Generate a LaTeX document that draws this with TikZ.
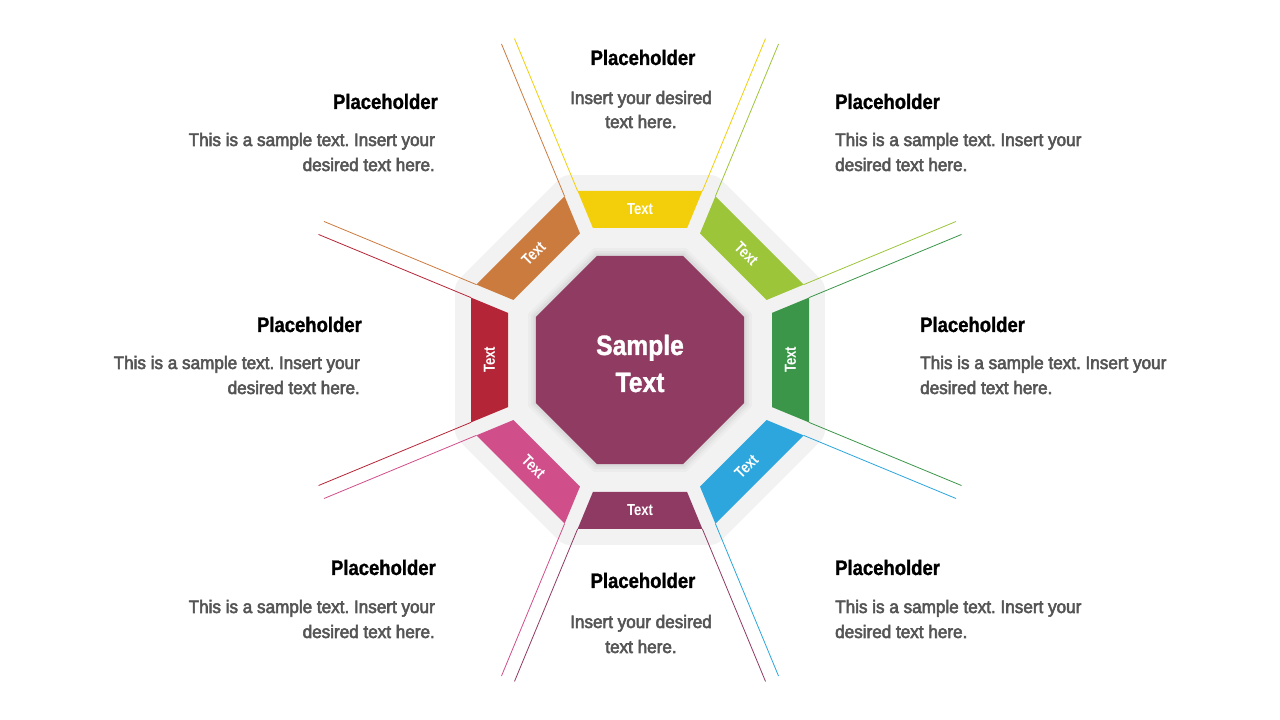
\documentclass[tikz,border=0pt]{standalone}
\usepackage{fontspec}
\setmainfont{Liberation Sans}
\newfontfamily\headfont[FakeStretch=0.88,FakeBold=1.2]{Liberation Sans}
\newfontfamily\bodyfont[FakeStretch=0.95,FakeBold=3]{Liberation Sans}
\newfontfamily\labfont[FakeStretch=0.82]{Liberation Sans}
\definecolor{ringgray}{HTML}{F2F2F2}
\definecolor{bodygray}{HTML}{555555}
\definecolor{centerc}{HTML}{903B62}
\definecolor{segyellow}{HTML}{F2CF0A}
\definecolor{seglime}{HTML}{9DC53A}
\definecolor{seggreen}{HTML}{3B9649}
\definecolor{segblue}{HTML}{2CA6DC}
\definecolor{segpurple}{HTML}{8E3A63}
\definecolor{segpink}{HTML}{D04E8A}
\definecolor{segred}{HTML}{B52538}
\definecolor{segorange}{HTML}{CC7B3F}
\newcommand\octo[1]{(22.5:#1) -- (67.5:#1) -- (112.5:#1) -- (157.5:#1) -- (202.5:#1) -- (247.5:#1) -- (292.5:#1) -- (337.5:#1) -- cycle}
\frenchspacing
\begin{document}
\begin{tikzpicture}[x=1pt,y=1pt,
  headtxt/.style={inner sep=0pt, font=\headfont\bfseries\fontsize{21}{25}\selectfont, text=black},
  bodytxt/.style={inner sep=0pt, font=\bodyfont\fontsize{18}{25}\selectfont, text=bodygray},
  segtxt/.style={inner sep=0pt, font=\labfont\bfseries\fontsize{16}{18}\selectfont, text=white},
  bigtxt/.style={inner sep=0pt, font=\headfont\bfseries\fontsize{28}{37}\selectfont, text=white},
  ray/.style={line width=0.8pt}]
\useasboundingbox (0,0) rectangle (1280,720);
\fill[white] (0,0) rectangle (1280,720);
\coordinate (O) at (640,360);
\begin{scope}[shift={(O)}]
  \fill[ringgray, rounded corners=6pt] \octo{200.2};
  % soft shadow round the centre
  \fill[black, opacity=0.025] \octo{121};
  \fill[black, opacity=0.03] \octo{118};
  \fill[black, opacity=0.035] \octo{115.5};
  \fill[centerc] \octo{112.6};
  \foreach \ang/\col/\rot [count=\k] in {90/segyellow/0, 45/seglime/-45, 0/seggreen/90, -45/segblue/45, -90/segpurple/0, -135/segpink/-45, 180/segred/90, 135/segorange/45}{
    \pgfmathsetmacro\rr{\ang-90}
    \begin{scope}[rotate=\rr]
      \fill[\col] (-62.4,169) -- (62.4,169) -- (47.1,132) -- (-47.1,132) -- cycle;
      \coordinate (sa\k) at (-62.4,169);
      \coordinate (sb\k) at (62.4,169);
      \coordinate (ea\k) at (-125.5,321.4);
      \coordinate (eb\k) at (125.5,321.4);
      \draw[ray, \col] (sa\k) -- (ea\k);
      \draw[ray, \col] (sb\k) -- (eb\k);
    \end{scope}
    \node[segtxt, rotate=\rot] (t\k) at (\ang:150.5) {Text};
  }
\end{scope}
\node[bigtxt, anchor=base] (cs) at (640,365) {Sample};
\node[bigtxt, anchor=base] (ct) at (640,328) {Text};
% top
\node[headtxt, anchor=base] (h1) at (643,655) {Placeholder};
\node[bodytxt, anchor=base] (b1a) at (641,616) {Insert your desired};
\node[bodytxt, anchor=base] (b1b) at (641,592) {text here.};
% top left
\node[headtxt, anchor=base east] (h2) at (438,611) {Placeholder};
\node[bodytxt, anchor=base east] (b2a) at (435,574) {This is a sample text. Insert your};
\node[bodytxt, anchor=base east] (b2b) at (435,549) {desired text here.};
% top right
\node[headtxt, anchor=base west] (h3) at (835,611) {Placeholder};
\node[bodytxt, anchor=base west] (b3a) at (835,574) {This is a sample text. Insert your};
\node[bodytxt, anchor=base west] (b3b) at (835,549) {desired text here.};
% left
\node[headtxt, anchor=base east] (h4) at (362,388) {Placeholder};
\node[bodytxt, anchor=base east] (b4a) at (360,351) {This is a sample text. Insert your};
\node[bodytxt, anchor=base east] (b4b) at (360,326) {desired text here.};
% right
\node[headtxt, anchor=base west] (h5) at (920,388) {Placeholder};
\node[bodytxt, anchor=base west] (b5a) at (920,351) {This is a sample text. Insert your};
\node[bodytxt, anchor=base west] (b5b) at (920,326) {desired text here.};
% bottom left
\node[headtxt, anchor=base east] (h6) at (436,145) {Placeholder};
\node[bodytxt, anchor=base east] (b6a) at (435,107) {This is a sample text. Insert your};
\node[bodytxt, anchor=base east] (b6b) at (435,82) {desired text here.};
% bottom
\node[headtxt, anchor=base] (h7) at (643,132) {Placeholder};
\node[bodytxt, anchor=base] (b7a) at (641,92) {Insert your desired};
\node[bodytxt, anchor=base] (b7b) at (641,67) {text here.};
% bottom right
\node[headtxt, anchor=base west] (h8) at (835,145) {Placeholder};
\node[bodytxt, anchor=base west] (b8a) at (835,107) {This is a sample text. Insert your};
\node[bodytxt, anchor=base west] (b8b) at (835,82) {desired text here.};
\end{tikzpicture}
\end{document}
